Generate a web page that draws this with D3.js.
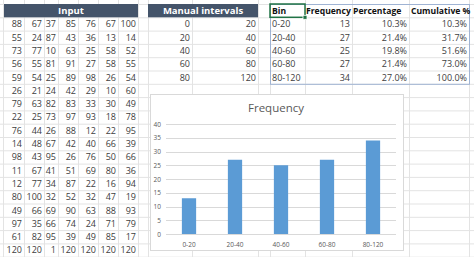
<!DOCTYPE html>
<html><head><meta charset="utf-8">
<script src="https://cdn.jsdelivr.net/npm/d3@7"></script>
<style>body{margin:0;background:#fff}svg{display:block}</style>
</head><body><svg id="c" width="474" height="257"></svg>
<script>
const inputData = [
 [88,67,37,85,76,67,100],[55,24,87,43,36,13,14],[73,77,10,63,25,58,52],[56,55,81,91,27,58,55],
 [59,54,25,89,98,26,54],[26,21,24,42,29,10,60],[79,63,82,83,33,30,49],[22,25,73,97,93,18,78],
 [76,44,26,88,12,22,95],[14,48,67,42,40,66,39],[98,43,95,26,76,50,66],[11,67,41,51,69,80,36],
 [12,77,34,87,22,16,94],[80,100,32,52,32,47,19],[49,66,69,90,63,88,93],[97,35,66,74,24,71,79],
 [61,82,95,39,49,85,17],[120,120,1,120,120,120,120]
];
const intervalLow = [0,20,40,60,80];
const intervalHigh = [20,40,60,80,120];
const bins = ["0-20","20-40","40-60","60-80","80-120"];
const frequency = [13,27,25,27,34];
const percentage = ["10.3%","21.4%","19.8%","21.4%","27.0%"];
const cumulative = ["10.3%","31.7%","51.6%","73.0%","100.0%"];
const tableHeaders = ["Bin","Frequency","Percentage","Cumulative %"];
const yTicks = [0,5,10,15,20,25,30,35,40];

const svg = d3.select("#c");
const F = "'Open Sans', Lato, sans-serif";
const rowTop = 4, rowH = 13.3;
const rowY = i => rowTop + rowH * i;
const colLines = [3,24,44,58,78,98,118,138,148,192,258,270,305,352,409,469];

const g = svg.append("g");
for (let k = 0; k < 20; k++) {
  g.append("line").attr("x1",0).attr("x2",474).attr("y1",rowY(k)+0.5).attr("y2",rowY(k)+0.5)
   .attr("stroke","#e3e3e3").attr("stroke-width",1);
}
colLines.forEach(x => g.append("line").attr("x1",x+0.5).attr("x2",x+0.5).attr("y1",0).attr("y2",257)
  .attr("stroke","#e3e3e3"));

const hdrFill = "#44546A";
svg.append("rect").attr("x",4).attr("y",rowY(0)).attr("width",134).attr("height",rowH).attr("fill",hdrFill);
svg.append("text").attr("x",71).attr("y",rowY(0)+10).attr("text-anchor","middle").attr("fill","#fff")
  .attr("font-family",F).attr("font-weight","bold").attr("font-size",9.5).text("Input");
svg.append("rect").attr("x",148).attr("y",rowY(0)).attr("width",110).attr("height",rowH).attr("fill",hdrFill);
svg.append("text").attr("x",203).attr("y",rowY(0)+10).attr("text-anchor","middle").attr("fill","#fff")
  .attr("font-family",F).attr("font-weight","bold").attr("font-size",9.5).text("Manual intervals");

const txtCol = "#404040";
const fs = 9;
const inRight = [22,42,56,76,96,116,136];
inputData.forEach((row,i) => row.forEach((v,j) => {
  svg.append("text").attr("x",inRight[j]).attr("y",rowY(i+1)+10).attr("text-anchor","end")
    .attr("fill",txtCol).attr("font-family",F).attr("font-size",fs).text(v);
}));
intervalLow.forEach((v,i) => {
  svg.append("text").attr("x",190).attr("y",rowY(i+1)+10).attr("text-anchor","end")
    .attr("fill",txtCol).attr("font-family",F).attr("font-size",fs).text(v);
  svg.append("text").attr("x",256).attr("y",rowY(i+1)+10).attr("text-anchor","end")
    .attr("fill",txtCol).attr("font-family",F).attr("font-size",fs).text(intervalHigh[i]);
});
svg.append("rect").attr("x",270.5).attr("y",rowY(0)+0.5).attr("width",199).attr("height",rowH*6)
  .attr("fill","none").attr("stroke","#9fb3d3").attr("stroke-width",1);
const hdrX = [272,306,353,411];
tableHeaders.forEach((h,i) => svg.append("text").attr("x",hdrX[i]).attr("y",rowY(0)+10)
  .attr("fill","#111").attr("font-family",F).attr("font-weight","bold").attr("font-size",8.6).text(h));
bins.forEach((b,i) => {
  const yy = rowY(i+1)+10;
  const t = (x,s,a) => svg.append("text").attr("x",x).attr("y",yy).attr("text-anchor",a)
    .attr("fill",txtCol).attr("font-family",F).attr("font-size",fs).text(s);
  t(272,b,"start"); t(350,frequency[i],"end"); t(407,percentage[i],"end"); t(467,cumulative[i],"end");
});
svg.append("rect").attr("x",270).attr("y",rowY(0)).attr("width",35).attr("height",rowH)
  .attr("fill","none").attr("stroke","#217346").attr("stroke-width",1.5);
svg.append("rect").attr("x",303).attr("y",rowY(1)-2).attr("width",4).attr("height",4).attr("fill","#217346")
  .attr("stroke","#fff").attr("stroke-width",0.8);

const ch = svg.append("g");
ch.append("rect").attr("x",150.5).attr("y",94.5).attr("width",253).attr("height",156)
  .attr("fill","#fff").attr("stroke","#d9d9d9");
ch.append("text").attr("x",276).attr("y",112).attr("text-anchor","middle").attr("fill","#595959")
  .attr("font-family",F).attr("font-size",11.5).text("Frequency");
const x = d3.scaleBand().domain(bins).range([166,396]).paddingInner(0.69).paddingOuter(0.345);
const y = d3.scaleLinear().domain([0,40]).range([234,124]);
yTicks.forEach(t => {
  ch.append("line").attr("x1",166).attr("x2",396).attr("y1",Math.round(y(t))+0.5).attr("y2",Math.round(y(t))+0.5)
    .attr("stroke","#d9d9d9");
  ch.append("text").attr("x",161).attr("y",y(t)+2.5).attr("text-anchor","end").attr("fill","#595959")
    .attr("font-family",F).attr("font-size",6.5).text(t);
});
ch.selectAll("rect.bar").data(bins).enter().append("rect").attr("class","bar")
  .attr("x",d=>x(d)).attr("width",x.bandwidth())
  .attr("y",(d,i)=>y(frequency[i])).attr("height",(d,i)=>y(0)-y(frequency[i]))
  .attr("fill","#5B9BD5");
bins.forEach(b => ch.append("text").attr("x",x(b)+x.bandwidth()/2).attr("y",246.5).attr("text-anchor","middle")
  .attr("fill","#595959").attr("font-family",F).attr("font-size",6.5).text(b));
</script></body></html>
